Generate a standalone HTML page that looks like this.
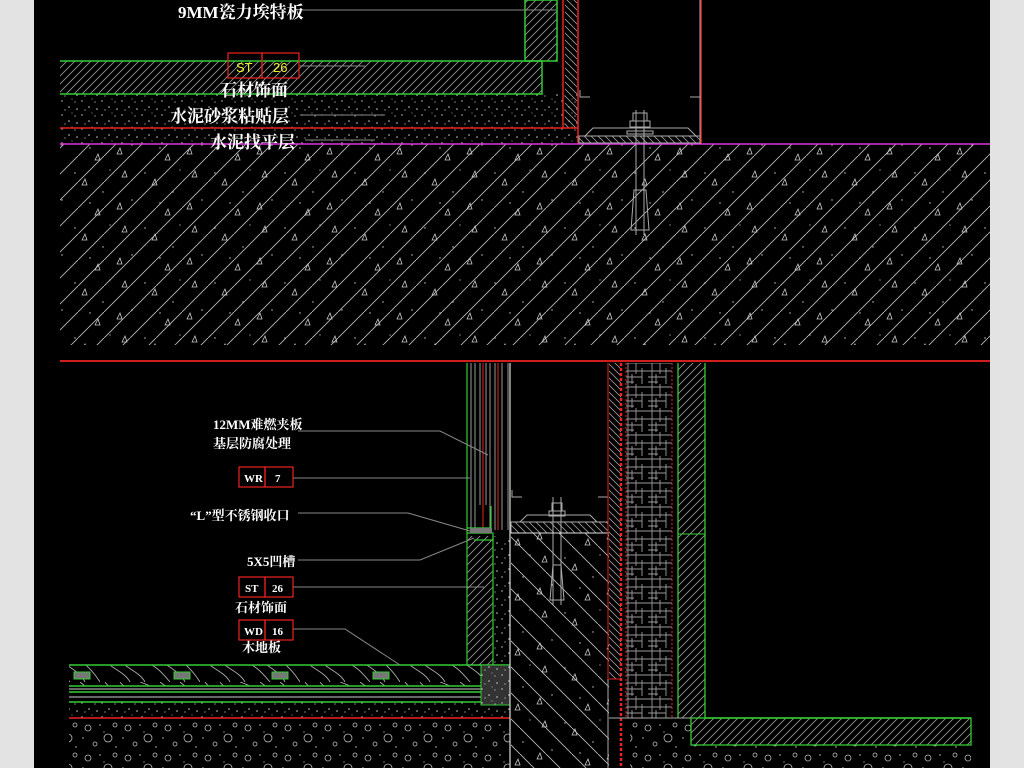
<!DOCTYPE html>
<html><head><meta charset="utf-8"><style>
html,body{margin:0;padding:0;background:#e3e3e3;}
svg{display:block}
text{font-family:"Liberation Serif","Noto Serif CJK SC","Noto Sans CJK SC",serif;fill:#fff;font-weight:bold}
</style></head><body>
<svg width="1024" height="768" viewBox="0 0 1024 768" xmlns="http://www.w3.org/2000/svg">
<defs>
<pattern id="hatch" width="8" height="8" patternUnits="userSpaceOnUse"><path d="M0 8L8 0M-2 2L2 -2M6 10L10 6" stroke="#9a9a9a" stroke-width="0.8"/></pattern>
<pattern id="hatchR" width="7" height="7" patternUnits="userSpaceOnUse"><path d="M0 0L7 7M-2 5L2 9M5 -2L9 2" stroke="#9a9a9a" stroke-width="0.8"/></pattern>
<pattern id="concL" width="26" height="26" patternUnits="userSpaceOnUse"><path d="M-2 28L28 -2" stroke="#bbb" stroke-width="0.9"/></pattern>
<pattern id="tri" width="70" height="55" patternUnits="userSpaceOnUse"><path d="M12 20l3 -6l2 6z M47 44l3 -6l2 6z M52 12l3-6l2 6z M25 50l3-6l2 6z" fill="none" stroke="#ccc" stroke-width="0.8"/><g fill="#ccc"><circle cx="5" cy="8" r="0.7"/><circle cx="33" cy="27" r="0.7"/><circle cx="62" cy="35" r="0.7"/><circle cx="20" cy="38" r="0.7"/><circle cx="40" cy="5" r="0.6"/></g></pattern>
<pattern id="concR" width="26" height="26" patternUnits="userSpaceOnUse"><path d="M-2 -2L28 28" stroke="#bbb" stroke-width="0.9"/></pattern>
<pattern id="dots" width="20" height="14" patternUnits="userSpaceOnUse"><g fill="#ccc"><circle cx="2" cy="3" r="0.7"/><circle cx="9" cy="9" r="0.8"/><circle cx="15" cy="4" r="0.6"/><circle cx="17" cy="11" r="0.8"/><circle cx="5" cy="12" r="0.6"/><circle cx="12" cy="1" r="0.5"/></g></pattern>
<pattern id="gravel" width="40" height="30" patternUnits="userSpaceOnUse"><g fill="none" stroke="#bbb" stroke-width="0.8"><circle cx="8" cy="8" r="3"/><circle cx="28" cy="18" r="4"/><circle cx="15" cy="24" r="2"/><circle cx="35" cy="5" r="2"/></g><g fill="#ccc"><circle cx="20" cy="5" r="0.7"/><circle cx="3" cy="18" r="0.7"/><circle cx="36" cy="27" r="0.7"/><circle cx="24" cy="12" r="0.6"/></g></pattern>
<pattern id="block" width="24" height="24" patternUnits="userSpaceOnUse"><path d="M0 3H24M0 11H24M0 17H18M4 0V24M12 0V14M18 8V24M0 22H10M8 14V24" stroke="#999" stroke-width="0.9" fill="none"/></pattern>
<pattern id="wood" width="100" height="22" patternUnits="userSpaceOnUse"><path d="M5 0C10 8 25 12 30 22M20 0C25 8 40 12 45 22M40 0C55 5 60 10 70 22M60 0C70 8 80 12 85 22M80 0C88 6 95 14 100 22" stroke="#aaa" fill="none" stroke-width="0.9"/></pattern>
</defs>
<rect x="0" y="0" width="1024" height="768" fill="#e3e3e3"/>
<rect x="34" y="0" width="956" height="768" fill="#000"/>

<!-- TOP SECTION -->
<rect x="60" y="144" width="930" height="201" fill="url(#concL)"/>
<rect x="60" y="144" width="930" height="201" fill="url(#tri)"/>
<rect x="60" y="94" width="518" height="34" fill="url(#dots)"/>
<rect x="60" y="128" width="518" height="16" fill="url(#dots)"/>
<rect x="60" y="61" width="482" height="33" fill="url(#hatch)"/>
<path d="M60 61H542V94H60" stroke="#3c3" stroke-width="1.5" fill="none"/>
<rect x="525" y="0" width="32" height="61" fill="url(#hatch)" stroke="#3c3" stroke-width="1.5"/>
<rect x="565" y="0" width="12" height="128" fill="url(#hatchR)"/>
<line x1="563" y1="0" x2="563" y2="128" stroke="#e22" stroke-width="1.5"/>
<line x1="578" y1="0" x2="578" y2="144" stroke="#e22" stroke-width="1.5"/>
<line x1="701" y1="0" x2="701" y2="144" stroke="#e22" stroke-width="1.5"/>
<line x1="60" y1="128" x2="578" y2="128" stroke="#e22" stroke-width="1.5"/>
<line x1="60" y1="144" x2="990" y2="144" stroke="#d3d" stroke-width="1.5"/>
<line x1="60" y1="361" x2="990" y2="361" stroke="#e22" stroke-width="1.5"/>
<g stroke="#aaa" fill="none" stroke-width="1">
<path d="M590 97H580V90M690 97H700V90"/><line x1="700" y1="0" x2="700" y2="144"/>
<rect x="579" y="136" width="121" height="7" fill="url(#hatchR)"/>
<path d="M585 136L593 128H688L696 136"/>
<rect x="633" y="113" width="14" height="8"/><rect x="630" y="121" width="20" height="6"/><rect x="627" y="131" width="26" height="3"/>
<path d="M636 110V235M644 110V235M631 230L634 190H646L649 230Z"/>
</g>
<line x1="300" y1="10" x2="556" y2="10" stroke="#888"/>
<text x="178" y="18" font-size="17">9MM瓷力埃特板</text>
<rect x="228" y="53" width="34" height="25" fill="none" stroke="#e22" stroke-width="1.2"/>
<rect x="262" y="53" width="37" height="25" fill="none" stroke="#e22" stroke-width="1.2"/>
<text x="236" y="72" font-size="13" style="fill:#ee2;font-weight:normal;font-family:'Liberation Sans',sans-serif">ST</text>
<text x="273" y="72" font-size="13" style="fill:#ee2;font-weight:normal;font-family:'Liberation Sans',sans-serif">26</text>
<line x1="300" y1="66" x2="365" y2="66" stroke="#888"/>
<text x="220" y="96" font-size="17">石材饰面</text>
<text x="170" y="122" font-size="17">水泥砂浆粘贴层</text>
<line x1="300" y1="115" x2="385" y2="115" stroke="#888"/>
<text x="210" y="148" font-size="17">水泥找平层</text>
<line x1="305" y1="140" x2="375" y2="140" stroke="#888"/>

<!-- BOTTOM SECTION -->
<rect x="69" y="702" width="441" height="16" fill="url(#dots)"/>
<rect x="69" y="718" width="441" height="50" fill="url(#gravel)"/>
<rect x="69" y="665" width="412" height="21" fill="url(#wood)"/>
<g stroke="#3c3" stroke-width="1.5"><line x1="69" y1="665" x2="510" y2="665"/><line x1="69" y1="686" x2="481" y2="686"/><line x1="69" y1="692" x2="481" y2="692"/><line x1="69" y1="702" x2="510" y2="702"/></g>
<g stroke="#888" stroke-width="1.5"><line x1="69" y1="689" x2="481" y2="689"/><line x1="69" y1="697" x2="481" y2="697"/></g>
<g fill="#777" stroke="#3c3"><rect x="74" y="672" width="16" height="7"/><rect x="174" y="672" width="16" height="7"/><rect x="272" y="672" width="16" height="7"/><rect x="373" y="672" width="16" height="7"/></g>
<line x1="69" y1="718" x2="510" y2="718" stroke="#e22" stroke-width="1.5"/>
<rect x="467" y="536" width="26" height="129" fill="url(#hatch)"/>
<rect x="493" y="536" width="17" height="170" fill="url(#dots)"/>
<rect x="481" y="665" width="29" height="40" fill="#333" stroke="#3c3"/>
<rect x="481" y="665" width="29" height="40" fill="url(#dots)"/>
<line x1="467" y1="363" x2="467" y2="665" stroke="#3c3" stroke-width="1.2"/>
<line x1="493" y1="536" x2="493" y2="665" stroke="#3c3" stroke-width="1.2"/>
<g stroke="#999"><line x1="471" y1="363" x2="471" y2="530"/><line x1="475" y1="363" x2="475" y2="530"/><line x1="480" y1="363" x2="480" y2="505"/><line x1="486" y1="363" x2="486" y2="505"/><line x1="490" y1="363" x2="490" y2="530"/><line x1="495" y1="363" x2="495" y2="530"/><line x1="502" y1="363" x2="502" y2="530"/><line x1="508" y1="363" x2="508" y2="530"/></g>
<line x1="483" y1="363" x2="483" y2="530" stroke="#e22"/>
<line x1="498" y1="363" x2="498" y2="530" stroke="#e22"/>
<line x1="510" y1="363" x2="510" y2="768" stroke="#ddd" stroke-width="1.2"/>
<path d="M467 528H491V506M467 533H493V540H474" stroke="#3c3" fill="none" stroke-width="1.2"/>
<rect x="470" y="528" width="22" height="5" fill="#777"/>
<rect x="511" y="533" width="98" height="235" fill="url(#concR)"/>
<rect x="511" y="533" width="98" height="235" fill="url(#tri)"/>
<g stroke="#aaa" fill="none">
<rect x="511" y="522" width="97" height="11" fill="url(#hatchR)"/>
<path d="M520 522L527 515H590L597 522"/>
<rect x="552" y="503" width="10" height="8"/><rect x="549" y="511" width="16" height="5"/>
<path d="M553 497V605M561 497V605M550 600L553 565H561L564 600Z"/>
<path d="M522 497H512V490M598 497H608V490"/>
<line x1="608" y1="363" x2="608" y2="768"/>
</g>
<line x1="511" y1="533" x2="609" y2="533" stroke="#ddd"/>
<rect x="609" y="363" width="12" height="316" fill="url(#hatchR)"/>
<line x1="609" y1="679" x2="621" y2="679" stroke="#e22"/>
<line x1="621" y1="363" x2="621" y2="768" stroke="#e22" stroke-width="2.5" stroke-dasharray="3,2"/>
<line x1="608" y1="363" x2="608" y2="679" stroke="#e22"/>
<rect x="626" y="363" width="46" height="355" fill="url(#block)"/>
<line x1="672" y1="363" x2="672" y2="718" stroke="#e22" stroke-dasharray="2,2"/>
<line x1="626" y1="363" x2="626" y2="718" stroke="#e22" stroke-dasharray="2,2"/>
<rect x="678" y="363" width="27" height="355" fill="url(#hatch)"/>
<line x1="678" y1="363" x2="678" y2="718" stroke="#3c3" stroke-width="1.3"/>
<line x1="705" y1="363" x2="705" y2="718" stroke="#3c3" stroke-width="1.3"/>
<line x1="678" y1="534" x2="705" y2="534" stroke="#3c3"/>
<line x1="609" y1="718" x2="691" y2="718" stroke="#aaa"/>
<rect x="630" y="718" width="341" height="50" fill="url(#gravel)"/>
<rect x="691" y="718" width="280" height="27" fill="#000"/>
<rect x="691" y="718" width="280" height="27" fill="url(#hatch)" stroke="#3c3" stroke-width="1.3"/>
<line x1="705" y1="718" x2="971" y2="718" stroke="#3c3" stroke-width="1.5"/>
<line x1="60" y1="361" x2="990" y2="361" stroke="#e22" stroke-width="1.5"/>

<g stroke="#888" fill="none">
<path d="M298 431H440L488 455"/>
<path d="M293 478H470"/>
<path d="M298 513H408L470 531"/>
<path d="M298 560H420L474 538"/>
<path d="M293 587H484"/>
<path d="M293 629H345L400 665"/>
</g>
<text x="213" y="429" font-size="13">12MM难燃夹板</text>
<text x="213" y="448" font-size="13">基层防腐处理</text>
<g fill="none" stroke="#e22" stroke-width="1.2">
<rect x="239" y="467" width="26" height="20"/><rect x="265" y="467" width="28" height="20"/>
<rect x="239" y="577" width="26" height="20"/><rect x="265" y="577" width="28" height="20"/>
<rect x="239" y="620" width="26" height="20"/><rect x="265" y="620" width="28" height="20"/>
</g>
<g style="fill:#ee2;font-weight:normal;font-family:'Liberation Sans',sans-serif" font-size="11">
<text x="244" y="482">WR</text><text x="275" y="482">7</text>
<text x="245" y="592">ST</text><text x="272" y="592">26</text>
<text x="244" y="635">WD</text><text x="272" y="635">16</text>
</g>
<text x="190" y="520" font-size="13">“L”型不锈钢收口</text>
<text x="247" y="566" font-size="13">5X5凹槽</text>
<text x="235" y="612" font-size="13">石材饰面</text>
<text x="242" y="652" font-size="13">木地板</text>
</svg>
</body></html>
